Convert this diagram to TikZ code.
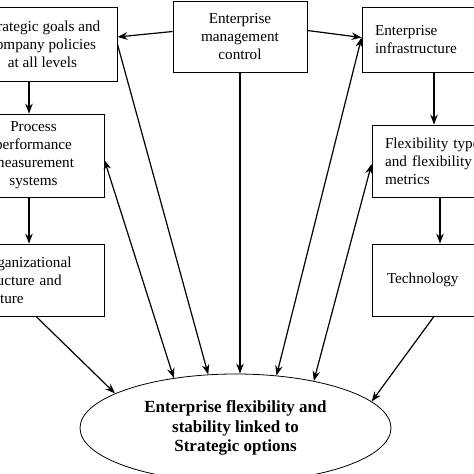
\documentclass[tikz,border=0pt]{standalone}
\usepackage{fontspec}
\setmainfont{Liberation Serif}
\usetikzlibrary{arrows.meta,shapes.geometric}

\begin{document}
\begin{tikzpicture}[x=1pt, y=-1pt,
    box/.style={draw, line width=0.8pt, inner sep=0pt, font=\fontsize{15.2}{18}\selectfont},
    arr/.style={line width=1.2pt, -{Stealth[length=10pt, width=7.5pt]}},
    both/.style={line width=1.2pt, {Stealth[length=10pt, width=7.5pt]}-{Stealth[length=10pt, width=7.5pt]}}]
    \useasboundingbox (0,0) rectangle (474,474);
    \clip (0,0) rectangle (474,474);

    \node[box, minimum width=149pt, minimum height=74pt, align=center] (goals) at (42.5,44) {Strategic goals and\\company policies\\at all levels};
    \node[box, minimum width=134pt, minimum height=71pt, align=center] (mgmt) at (240,36.5) {Enterprise\\management\\control};
    \node[box, text width=102pt, inner xsep=13pt, minimum height=65pt, align=left] (infra) at (426,39.5) {Enterprise\\infrastructure\\ };
    \node[box, minimum width=141pt, minimum height=83pt, align=center] (perf) at (33.5,155.5) {Process\\performance\\measurement\\systems};
    \node[box, text width=110pt, inner xsep=13pt, minimum height=72pt, align=left] (flex) at (440,161) {Flexibility types\\and flexibility\\metrics};
    \node[box, text width=104pt, inner xsep=18.5pt, minimum height=72pt, align=left] (org) at (33.5,280) {Organizational\\structure and\\culture};
    \node[box, text width=106pt, inner xsep=15pt, minimum height=72pt, align=left] (tech) at (440,280) {Technology};
    \node[ellipse, draw, line width=0.8pt, inner sep=0pt, minimum width=311pt, minimum height=108pt, align=center,
        font=\fontsize{17}{19.5}\selectfont\bfseries] (options) at (235.5,428) {Enterprise flexibility and\\stability linked to\\Strategic options};

    \draw[arr] ([yshift=5pt]mgmt.west) -- ([yshift=7pt]goals.east);
    \draw[arr] ([yshift=6pt]mgmt.east) -- ([yshift=2pt]infra.west);
    \draw[arr] ([xshift=-13.5pt]goals.south) -- ([xshift=-4.5pt]perf.north);
    \draw[arr] ([xshift=-4.5pt]perf.south) -- ([xshift=-4.5pt]org.north);
    \draw[arr] ([xshift=8pt]infra.south) -- ([xshift=-6pt]flex.north);
    \draw[arr] (flex.south) -- (tech.north);
    \draw[arr] ([xshift=2.5pt]org.south) -- (options.164);
    \draw[arr] ([xshift=-6pt]tech.south) -- (options.11);
    \draw[arr] (goals.east) -- (options.117);
    \draw[both] ([yshift=-4.5pt]perf.east) -- (options.141);
    \draw[arr] (mgmt.south) -- (mgmt.south |- options.north);
    \draw[both] ([yshift=2pt]infra.west) -- (options.52.5);
    \draw[both] ([yshift=-3pt]flex.west) -- (options.31.6);
\end{tikzpicture}
\end{document}
